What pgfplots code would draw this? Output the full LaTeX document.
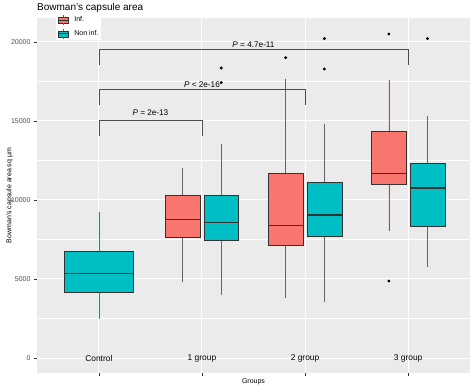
\documentclass[border=0pt]{standalone}
\usepackage{pgfplots}
\pgfplotsset{compat=1.18}
\usepgfplotslibrary{statistics}
\usepackage{fontspec}
\setmainfont{Liberation Sans}
\definecolor{infc}{HTML}{F8766D}
\definecolor{noninfc}{HTML}{00BFC4}
\definecolor{panelbg}{HTML}{EBEBEB}
\definecolor{tickc}{HTML}{4D4D4D}
\definecolor{linec}{HTML}{333333}
\begin{document}
\begin{tikzpicture}
\useasboundingbox (-37pt,-17pt) rectangle (437pt,373pt);
\begin{axis}[
  at={(0pt,0pt)}, anchor=south west,
  scale only axis, width=433pt, height=355pt,
  xmin=0.4, xmax=4.6, ymin=-949, ymax=21519,
  axis background/.style={fill=panelbg},
  axis line style={draw=none},
  tick align=outside, tick pos=left,
  major tick length=3pt,
  tick style={linec, line width=0.5pt},
  xtick={1,2,3,4}, xticklabels={},
  ytick={0,5000,10000,15000,20000},
  minor ytick={2500,7500,12500,17500},
  minor tick style={draw=none},
  grid=both,
  major grid style={white, line width=1pt},
  minor grid style={white, line width=0.5pt},
  scaled y ticks=false,
  yticklabel style={font=\fontsize{7}{8}\selectfont, text=tickc,
    /pgf/number format/1000 sep={}, /pgf/number format/assume math mode=true},
  title={Bowman's capsule area},
  every axis title/.style={at={(axis description cs:0,1)}, anchor=base west, yshift=7pt, inner sep=0pt, font=\fontsize{10}{12}\selectfont},
  ylabel={Bowman's capsule area sq µm},
  every axis y label/.style={at={(axis description cs:-0.0635,0.5)}, rotate=90, anchor=center, font=\fontsize{7}{8}\selectfont},
  xlabel={Groups},
  every axis x label/.style={at={(axis description cs:0.5,-0.0254)}, anchor=center, font=\fontsize{7}{8}\selectfont},
  boxplot/draw direction=y,
  boxplot/draw/lower whisker/.code={\draw[/pgfplots/boxplot/every whisker/.try]
     (boxplot cs:\pgfplotsboxplotvalue{lower whisker}) -- (boxplot cs:\pgfplotsboxplotvalue{lower quartile});},
  boxplot/draw/upper whisker/.code={\draw[/pgfplots/boxplot/every whisker/.try]
     (boxplot cs:\pgfplotsboxplotvalue{upper whisker}) -- (boxplot cs:\pgfplotsboxplotvalue{upper quartile});},
  boxplot/every median/.style={line width=1.2pt},
  boxplot/every whisker/.style={draw=black!60, line width=0.5pt},
  legend style={at={(axis description cs:0.0439,1.014)}, anchor=north west, draw=none, fill=white,
    font=\fontsize{7}{8}\selectfont, inner sep=1.5pt, row sep=3.5pt,
    nodes={inner sep=1.2pt},
    /tikz/every odd column/.append style={column sep=5pt}},
  legend cell align=left,
]
\addlegendimage{legend image code/.code={
  \draw[fill=infc, draw=linec, line width=0.3pt] (0pt,-3pt) rectangle (10pt,3pt);
  \draw[linec, line width=0.5pt] (0pt,0pt) -- (10pt,0pt);
  \draw[black!60, line width=0.3pt] (5pt,3pt)--(5pt,5pt) (5pt,-3pt)--(5pt,-5pt);}}
\addlegendentry{Inf.}
\addlegendimage{legend image code/.code={
  \draw[fill=noninfc, draw=linec, line width=0.3pt] (0pt,-3pt) rectangle (10pt,3pt);
  \draw[linec, line width=0.5pt] (0pt,0pt) -- (10pt,0pt);
  \draw[black!60, line width=0.3pt] (5pt,3pt)--(5pt,5pt) (5pt,-3pt)--(5pt,-5pt);}}
\addlegendentry{Non inf.}

% Control
\addplot[boxplot prepared={draw position=1, box extend=0.675,
  lower whisker=2487, lower quartile=4177, median=5360, upper quartile=6772, upper whisker=9259},
  fill=noninfc, draw=linec, line width=0.5pt, mark=*, mark size=1.2pt, mark options={fill=black, draw=black}] coordinates {};
% 1 group
\addplot[boxplot prepared={draw position=1.8125, box extend=0.3375,
  lower whisker=4810, lower quartile=7637, median=8777, upper quartile=10316, upper whisker=12006},
  fill=infc, draw=linec, line width=0.5pt, mark=*, mark size=1.2pt, mark options={fill=black, draw=black}] coordinates {};
\addplot[boxplot prepared={draw position=2.1875, box extend=0.3375,
  lower whisker=3987, lower quartile=7426, median=8586, upper quartile=10274, upper whisker=13544},
  fill=noninfc, draw=linec, line width=0.5pt, mark=*, mark size=1.2pt, mark options={fill=black, draw=black}]
  table[row sep=\\, y index=0] {y\\ 18354\\ 17427\\};
% 2 group
\addplot[boxplot prepared={draw position=2.8125, box extend=0.3375,
  lower whisker=3816, lower quartile=7108, median=8397, upper quartile=11709, upper whisker=17658},
  fill=infc, draw=linec, line width=0.5pt, mark=*, mark size=1.2pt, mark options={fill=black, draw=black}]
  table[row sep=\\, y index=0] {y\\ 19008\\};
\addplot[boxplot prepared={draw position=3.1875, box extend=0.3375,
  lower whisker=3565, lower quartile=7700, median=9051, upper quartile=11139, upper whisker=14830},
  fill=noninfc, draw=linec, line width=0.5pt, mark=*, mark size=1.2pt, mark options={fill=black, draw=black}]
  table[row sep=\\, y index=0] {y\\ 20212\\ 18291\\};
% 3 group
\addplot[boxplot prepared={draw position=3.8125, box extend=0.3375,
  lower whisker=8017, lower quartile=11013, median=11666, upper quartile=14324, upper whisker=17574},
  fill=infc, draw=linec, line width=0.5pt, mark=*, mark size=1.2pt, mark options={fill=black, draw=black}]
  table[row sep=\\, y index=0] {y\\ 20506\\ 4873\\};
\addplot[boxplot prepared={draw position=4.1875, box extend=0.3375,
  lower whisker=5741, lower quartile=8354, median=10759, upper quartile=12342, upper whisker=15316},
  fill=noninfc, draw=linec, line width=0.5pt, mark=*, mark size=1.2pt, mark options={fill=black, draw=black}]
  table[row sep=\\, y index=0] {y\\ 20212\\};

% significance brackets
\addplot[black!70, line width=0.6pt, mark=none, forget plot] coordinates {(1,14070) (1,15063) (2,15063) (2,14070)};
\addplot[black!70, line width=0.6pt, mark=none, forget plot] coordinates {(1,16013) (1,17025) (3,17025) (3,16013)};
\addplot[black!70, line width=0.6pt, mark=none, forget plot] coordinates {(1,18544) (1,19526) (4,19526) (4,18544)};

\node[font=\fontsize{8.2}{10}\selectfont] at (axis cs:1.5,15506) {\textit{P} = 2e-13};
\node[font=\fontsize{8.2}{10}\selectfont] at (axis cs:2,17278) {\textit{P} < 2e-16};
\node[font=\fontsize{8.2}{10}\selectfont] at (axis cs:2.5,19810) {\textit{P} = 4.7e-11};

\node[font=\fontsize{8.4}{10}\selectfont] at (axis cs:1,0) {Control};
\node[font=\fontsize{8.4}{10}\selectfont] at (axis cs:2,0) {1 group};
\node[font=\fontsize{8.4}{10}\selectfont] at (axis cs:3,0) {2 group};
\node[font=\fontsize{8.4}{10}\selectfont] at (axis cs:4,0) {3 group};
\end{axis}
\end{tikzpicture}
\end{document}
